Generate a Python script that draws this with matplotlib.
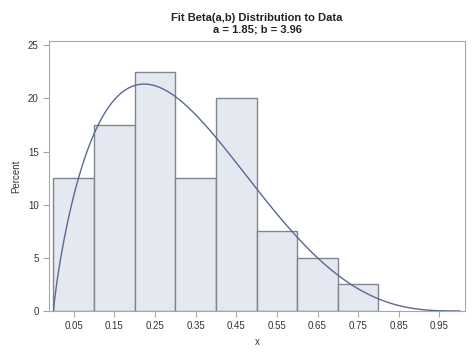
import math
import numpy as np
import matplotlib
matplotlib.use('Agg')
import matplotlib.pyplot as plt

plt.rcParams['font.family'] = ['Liberation Sans', 'DejaVu Sans']

# histogram data (percent per bin)
bin_left = [0.0, 0.1, 0.2, 0.3, 0.4, 0.5, 0.6, 0.7]
bin_width = 0.1
percent = [12.5, 17.5, 22.5, 12.5, 20.0, 7.5, 5.0, 2.5]

# fitted beta parameters
a = 1.85
b = 3.96

xticks = [0.05, 0.15, 0.25, 0.35, 0.45, 0.55, 0.65, 0.75, 0.85, 0.95]
yticks = [0, 5, 10, 15, 20, 25]

# beta density scaled to percent per bin
x = np.linspace(0, 1, 400)
B = math.gamma(a) * math.gamma(b) / math.gamma(a + b)
pdf = x ** (a - 1) * (1 - x) ** (b - 1) / B
curve = pdf * bin_width * 100

fig = plt.figure(figsize=(4.74, 3.55), dpi=100)
ax = fig.add_axes([0.1034, 0.124, 0.8776, 0.7605])

ax.bar(bin_left, percent, width=bin_width, align='edge',
       color='#e3e8f1', edgecolor='#80858f', linewidth=1.0, zorder=2)
ax.plot(x, curve, color='#5b6896', linewidth=1.0, zorder=3)

ax.set_xlim(-0.011, 1.013)
ax.set_ylim(0, 25.4)
ax.set_xticks(xticks)
ax.set_xticklabels(['%.2f' % t for t in xticks])
ax.set_yticks(yticks)

for s in ax.spines.values():
    s.set_color('#a8a8a8')
    s.set_linewidth(0.8)
ax.tick_params(colors='#a8a8a8', labelcolor='#333333', labelsize=7,
               length=4, width=0.8)

ax.set_xlabel('x', fontsize=7, color='#333333', labelpad=4)
ax.set_ylabel('Percent', fontsize=7, color='#333333', labelpad=5)
ax.set_title('Fit Beta(a,b) Distribution to Data\na = 1.85; b = 3.96',
             fontsize=8, fontweight='bold', color='#222222', pad=6,
             linespacing=1.25)

fig.savefig('out.png', dpi=100)
